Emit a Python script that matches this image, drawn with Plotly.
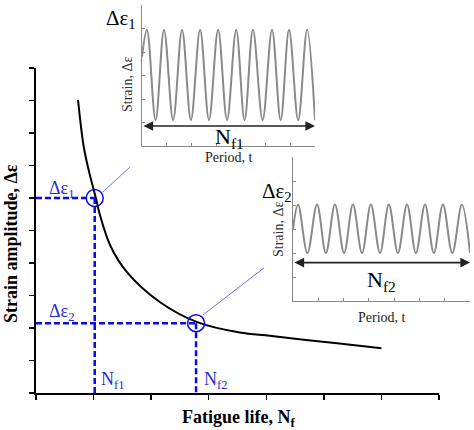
import plotly.graph_objects as go

W, H = 474, 430

# ---------------- data ----------------
# main S-N curve (x in tick units 0..7, y in tick units 0..10)
curve_x = [0.73, 0.83, 0.93, 1.04, 1.11, 1.30, 1.58, 2.15, 2.80, 3.54, 4.06, 4.65, 5.23, 6.00]
curve_y = [9.02, 7.57, 6.75, 6.00, 5.48, 4.50, 3.72, 2.80, 2.18, 1.86, 1.76, 1.64, 1.53, 1.38]

eps_levels = [6.0, 2.15]          # Δε1, Δε2
nf_levels = [1.02, 2.78]          # Nf1, Nf2

# thin connectors from the circles to the insets
conn1_x = [1.16, 1.63]
conn1_y = [6.18, 6.95]
conn2_x = [2.90, 3.96]
conn2_y = [2.40, 3.85]

# inset 1 waveform turning points (axis units 0..7, 0..6)
w1_x = [0.00, 0.20, 0.55, 0.89, 1.26, 1.62, 1.98, 2.35, 2.71, 3.08, 3.44, 3.81, 4.15,
        4.49, 4.88, 5.26, 5.61, 5.95, 6.32, 6.68, 7.00]
w1_y = [3.80, 4.95, 1.10, 4.95, 1.10, 4.95, 1.10, 4.95, 1.10, 4.95, 1.10, 4.95, 1.10,
        4.95, 1.10, 4.95, 1.10, 4.95, 1.10, 4.95, 1.10]
arrow1_y = 0.85

# inset 2 waveform turning points
w2_x = [0.00, 0.20, 0.57, 0.95, 1.30, 1.66, 2.02, 2.37, 2.73, 3.08, 3.44, 3.79, 4.15,
        4.51, 4.86, 5.22, 5.57, 5.93, 6.30, 6.68, 7.00]
w2_y = [3.00, 4.02, 2.00, 4.02, 2.00, 4.02, 2.00, 4.02, 2.00, 4.02, 2.00, 4.02, 2.00,
        4.02, 2.00, 4.02, 2.00, 4.02, 2.00, 4.02, 2.00]
arrow2_y = 1.6

main_xticks = list(range(0, 8))
main_yticks = list(range(0, 11))
inset_xticks = list(range(0, 8))
inset_yticks = list(range(0, 7))

# ---------------- styling helpers ----------------
SERIF = "Liberation Serif, Times New Roman, serif"
BLUE = "#0a0ae6"
LBLUE = "#2b2bd6"
GRAY = "#8a8a8a"


def px(x):
    return x / W


def py(y):
    return 1 - y / H


fig = go.Figure()

# main curve
fig.add_trace(go.Scatter(x=curve_x, y=curve_y, mode="lines",
                         line=dict(color="black", width=2, shape="spline", smoothing=1.0),
                         xaxis="x", yaxis="y", hoverinfo="skip"))

# dashed guides
for e, n in zip(eps_levels, nf_levels):
    fig.add_trace(go.Scatter(x=[0, n], y=[e, e], mode="lines",
                             line=dict(color=BLUE, width=2.5, dash="6px,3px"),
                             xaxis="x", yaxis="y", hoverinfo="skip"))
    fig.add_trace(go.Scatter(x=[n, n], y=[e, 0], mode="lines",
                             line=dict(color=BLUE, width=2.5, dash="6px,3px"),
                             xaxis="x", yaxis="y", hoverinfo="skip"))

# circles
fig.add_trace(go.Scatter(x=nf_levels, y=eps_levels, mode="markers",
                         marker=dict(symbol="circle-open", size=17, color=BLUE,
                                     line=dict(width=1.5, color=BLUE)),
                         xaxis="x", yaxis="y", hoverinfo="skip"))

# connectors
for cx, cy in [(conn1_x, conn1_y), (conn2_x, conn2_y)]:
    fig.add_trace(go.Scatter(x=cx, y=cy, mode="lines",
                             line=dict(color="#7070ee", width=1),
                             xaxis="x", yaxis="y", hoverinfo="skip"))

# inset waves
fig.add_trace(go.Scatter(x=w1_x, y=w1_y, mode="lines",
                         line=dict(color=GRAY, width=2, shape="spline", smoothing=1.0),
                         xaxis="x2", yaxis="y2", hoverinfo="skip"))
fig.add_trace(go.Scatter(x=w2_x, y=w2_y, mode="lines",
                         line=dict(color=GRAY, width=2, shape="spline", smoothing=1.0),
                         xaxis="x3", yaxis="y3", hoverinfo="skip"))

main_ax = dict(showline=True, linecolor="black", linewidth=1.8, ticks="outside",
               ticklen=5, tickwidth=1.5, tickcolor="black", showticklabels=False,
               showgrid=False, zeroline=False, fixedrange=True)
inset_ax = dict(showline=True, linecolor=GRAY, linewidth=1, ticks="inside",
                ticklen=3, tickwidth=1, tickcolor=GRAY, showticklabels=False,
                showgrid=False, zeroline=False, fixedrange=True)

fig.update_layout(
    width=W, height=H, margin=dict(l=0, r=0, t=0, b=0),
    paper_bgcolor="white", plot_bgcolor="rgba(0,0,0,0)", showlegend=False,
    xaxis=dict(domain=[px(36), px(439)], range=[0, 7], tickvals=main_xticks,
               anchor="y", **main_ax),
    yaxis=dict(domain=[py(393), py(68)], range=[0, 10], tickvals=main_yticks,
               anchor="x", **main_ax),
    xaxis2=dict(domain=[px(142), px(315)], range=[0, 7], tickvals=inset_xticks,
                anchor="y2", **inset_ax),
    yaxis2=dict(domain=[py(146), py(5)], range=[0, 6], tickvals=inset_yticks,
                anchor="x2", **inset_ax),
    xaxis3=dict(domain=[px(293), px(470)], range=[0, 7], tickvals=inset_xticks,
                anchor="y3", **inset_ax),
    yaxis3=dict(domain=[py(301), py(157)], range=[0, 6], tickvals=inset_yticks,
                anchor="x3", **inset_ax),
)

ann = []


def label(text, x, y, size, color="black", bold=False, angle=0, xa="center", ya="middle"):
    if bold:
        text = "<b>" + text + "</b>"
    ann.append(dict(text=text, x=px(x), y=py(y), xref="paper", yref="paper",
                    showarrow=False, xanchor=xa, yanchor=ya, textangle=angle,
                    font=dict(family=SERIF, size=size, color=color)))


# axis titles
label("Strain amplitude, Δε", 11, 244, 18, bold=True, angle=-90)
label("Fatigue life, N<sub>f</sub>", 238, 418, 18, bold=True)

# blue labels
label("Δε<sub>1</sub>", 61, 189, 18, color=LBLUE)
label("Δε<sub>2</sub>", 61, 312, 18, color=LBLUE)
label("N<sub>f1</sub>", 99, 380, 18, color=LBLUE, xa="left")
label("N<sub>f2</sub>", 202, 380, 18, color=LBLUE, xa="left")

# inset 1 labels
label("Δε<sub>1</sub>", 121, 19, 21)
label("Strain, Δε", 128, 84, 14, color="#333333", angle=-90)
label("N<sub>f1</sub>", 229, 138, 22)
label("Period, t", 229, 157, 14, color="#222222")

# inset 2 labels
label("Δε<sub>2</sub>", 277, 192, 21)
label("Strain, Δε", 279, 230, 14, color="#333333", angle=-90)
label("N<sub>f2</sub>", 381, 281, 22)
label("Period, t", 382, 317, 14, color="#222222")

# double arrows in insets
for xr, yr, yv in [("x2", "y2", arrow1_y), ("x3", "y3", arrow2_y)]:
    ann.append(dict(text="", x=7, y=yv, ax=0, ay=yv, xref=xr, yref=yr,
                    axref=xr, ayref=yr, showarrow=True, arrowhead=2,
                    arrowside="end+start", arrowsize=1.2, arrowwidth=1.6,
                    arrowcolor="#222222", standoff=0, startstandoff=0))

fig.update_layout(annotations=ann)

fig.write_html("out.html",
               config={"displayModeBar": False, "staticPlot": True},
               post_script="document.body.style.margin='0';"
                           "document.body.style.overflow='hidden';")
